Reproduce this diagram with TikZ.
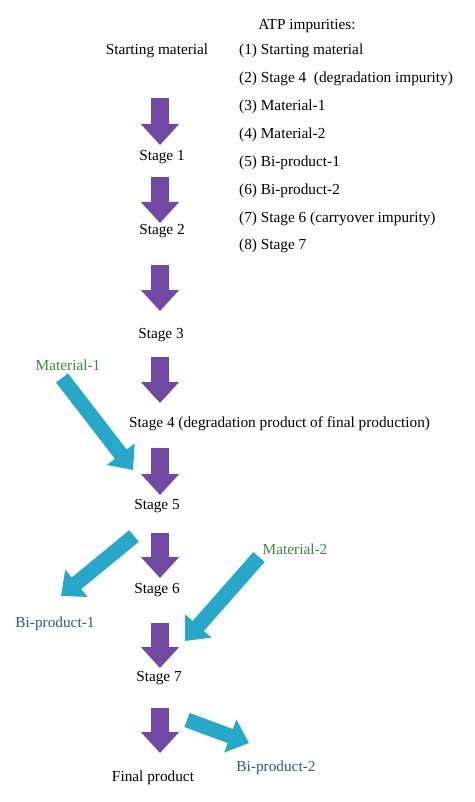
\documentclass[tikz,border=0pt]{standalone}
\usepackage{fontspec}
\setmainfont{Liberation Serif}
\usepackage{tikz}
\usetikzlibrary{positioning, arrows.meta, calc}
\definecolor{stagepurple}{RGB}{114,73,162}
\definecolor{feedcyan}{RGB}{40,168,200}
\definecolor{matgreen}{RGB}{60,140,60}
\definecolor{bpblue}{RGB}{50,82,168}
\tikzset{
  txt/.style={inner sep=0pt, font=\fontsize{15.3}{18}\selectfont},
  stagearrow/.style={draw=stagepurple, line width=18pt, -{Triangle[width=37pt,length=21pt]}},
  feedarrow/.style={draw=feedcyan, line width=15pt, -{Triangle[width=34pt,length=20pt]}},
}
\begin{document}
\begin{tikzpicture}[x=1pt,y=-1pt]
  \useasboundingbox (0,0) rectangle (474,802);
  \coordinate (axis) at (160,0);

  \node[txt] (start) at (157,51) {Starting material};
  \node[txt] (s1) at (162,157) {Stage 1};
  \node[txt] (s2) at (162,231) {Stage 2};
  \node[txt] (s3) at (161,335) {Stage 3};
  \node[txt, anchor=west] (s4) at (129,424) {Stage 4 (degradation product of final production)};
  \node[txt] (s5) at (157,506) {Stage 5};
  \node[txt] (s6) at (157,590) {Stage 6};
  \node[txt] (s7) at (159,678) {Stage 7};
  \node[txt] (final) at (153,778) {Final product};

  \node[txt, text=matgreen] (mat1) at (68,365) {Material-1};
  \node[txt, text=matgreen] (mat2) at (295,549) {Material-2};
  \node[txt, text=bpblue] (bp1) at (55,624) {Bi-product-1};
  \node[txt, text=bpblue] (bp2) at (276,768) {Bi-product-2};

  \node[txt] (atp) at (307,26) {ATP impurities:};
  \foreach \t [count=\n] in {{(1) Starting material}, {(2) Stage 4\ \ (degradation impurity)},
      {(3) Material-1}, {(4) Material-2}, {(5) Bi-product-1}, {(6) Bi-product-2},
      {(7) Stage 6 (carryover impurity)}, {(8) Stage 7}}
    \node[txt, anchor=west] (imp\n) at (239,{51+27.9*(\n-1)}) {\t};

  \foreach \a/\b/\u/\v in {start/s1/47/12, s1/s2/20/8, s2/s3/34/24, s3/s4/22/21,
      s4/s5/24/11, s5/s6/27/12, s6/s7/33/10, s7/final/30/25}
    \draw[stagearrow] ($(axis |- \a)+(0,\u)$) -- ($(axis |- \b)+(0,-\v)$);

  \coordinate (m1tail) at (62,378);
  \coordinate (m1tip) at (133,470);
  \coordinate (b1tail) at (134,536);
  \coordinate (b1tip) at (61,596);
  \coordinate (m2tail) at (259,557);
  \coordinate (m2tip) at (185,641);
  \coordinate (b2tail) at (187,720);
  \coordinate (b2tip) at (249,743);
  \draw[feedarrow] (m1tail) -- (m1tip);
  \draw[feedarrow] (b1tail) -- (b1tip);
  \draw[feedarrow] (m2tail) -- (m2tip);
  \draw[feedarrow] (b2tail) -- (b2tip);
\end{tikzpicture}
\end{document}
